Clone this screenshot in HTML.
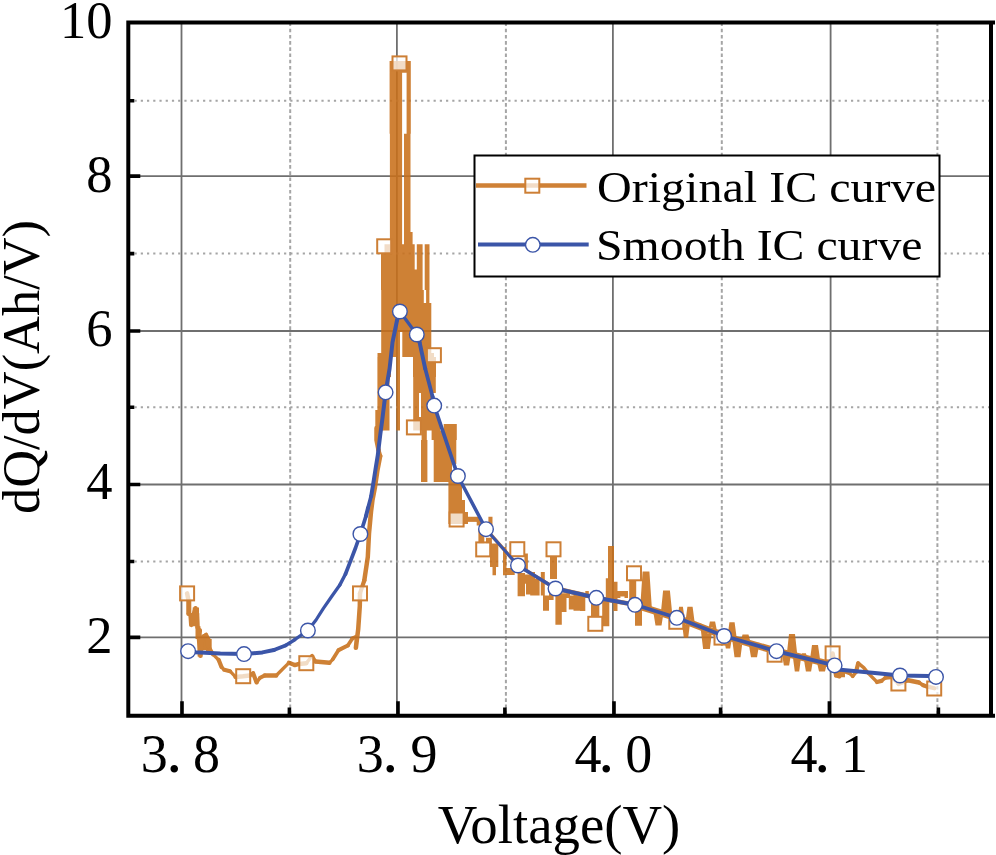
<!DOCTYPE html><html><head><meta charset="utf-8"><title>dQ/dV</title><style>
html,body{margin:0;padding:0;background:#fff;}
svg{display:block;}
.gmaj{stroke:#6f6f6f;stroke-width:1.8;}
.gmin{stroke:#a5a5a5;stroke-width:2;stroke-dasharray:2.2 4.03;}
.gv{stroke-dasharray:3.6 2.6;}
text{font-family:"Liberation Serif","Times New Roman",serif;fill:#000;}
.tl{font-size:52.5px;}
.xl{font-size:54px;}
.at{font-size:54px;}
.yt{font-size:52px;}
.lg{font-size:45px;}
.ol{fill:none;stroke:#c8701a;stroke-width:4.5;stroke-linejoin:miter;}
.bl{fill:none;stroke:#3b55a8;stroke-width:4;}
.sq rect{fill:rgba(255,255,255,0.72);stroke:#cd7f35;stroke-width:2;}
.ci circle{fill:#fff;stroke:#3b55a8;stroke-width:1.4;}
</style></head><body><svg width="996" height="855" viewBox="0 0 996 855">
<rect width="996" height="855" fill="#fff"/>
<g><line x1="181.5" y1="22.5" x2="181.5" y2="715.8" class="gmaj"/><line x1="396.9" y1="22.5" x2="396.9" y2="715.8" class="gmaj"/><line x1="612.9" y1="22.5" x2="612.9" y2="715.8" class="gmaj"/><line x1="830.6" y1="22.5" x2="830.6" y2="715.8" class="gmaj"/><line x1="290.2" y1="22.5" x2="290.2" y2="715.8" class="gmin gv"/><line x1="505.9" y1="22.5" x2="505.9" y2="715.8" class="gmin gv"/><line x1="721.8" y1="22.5" x2="721.8" y2="715.8" class="gmin gv"/><line x1="937.4" y1="22.5" x2="937.4" y2="715.8" class="gmin gv"/><line x1="128.3" y1="637.4" x2="991.0" y2="637.4" class="gmaj"/><line x1="128.3" y1="484.5" x2="991.0" y2="484.5" class="gmaj"/><line x1="128.3" y1="331.0" x2="991.0" y2="331.0" class="gmaj"/><line x1="128.3" y1="176.1" x2="991.0" y2="176.1" class="gmaj"/><line x1="128.3" y1="561.5" x2="991.0" y2="561.5" class="gmin"/><line x1="128.3" y1="407.2" x2="991.0" y2="407.2" class="gmin"/><line x1="128.3" y1="253.6" x2="991.0" y2="253.6" class="gmin"/><line x1="128.3" y1="100.7" x2="991.0" y2="100.7" class="gmin"/></g>
<g opacity="0.88"><path d="M389.6 61.0H410.8V72.8H389.6ZM389.6 72.8H402.1V133.7H389.6ZM406.6 72.8H410.8V133.7H406.6ZM389.9 133.7H402.1V232.0H389.9ZM404.0 133.7H410.5V232.0H404.0ZM389.9 232.0H402.1V244.2H389.9ZM404.0 232.0H412.6V244.2H404.0ZM384.5 244.2H414.7V253.7H384.5ZM416.8 244.2H422.6V253.7H416.8ZM424.7 244.2H429.5V253.7H424.7ZM381.0 253.7H414.7V269.5H381.0ZM416.8 253.7H422.6V269.5H416.8ZM424.7 253.7H429.5V269.5H424.7ZM381.0 269.5H422.6V290.0H381.0ZM424.7 269.5H429.5V290.0H424.7ZM381.2 290.0H423.8V303.0H381.2ZM426.1 290.0H429.4V303.0H426.1ZM381.2 303.0H431.3V332.0H381.2ZM381.2 332.0H400.0V353.0H381.2ZM402.3 332.0H431.3V353.0H402.3ZM377.5 353.0H400.0V357.0H377.5ZM402.3 353.0H434.0V357.0H402.3ZM377.4 357.0H391.0V377.0H377.4ZM396.3 357.0H400.0V377.0H396.3ZM413.0 357.0H436.0V377.0H413.0ZM377.4 377.0H389.5V393.0H377.4ZM396.3 377.0H400.0V393.0H396.3ZM413.2 377.0H435.8V393.0H413.2ZM377.4 393.0H389.5V410.0H377.4ZM396.3 393.0H400.0V410.0H396.3ZM413.2 393.0H419.0V410.0H413.2ZM421.0 393.0H432.0V410.0H421.0ZM375.3 410.0H389.5V417.0H375.3ZM396.3 410.0H400.0V417.0H396.3ZM413.2 410.0H419.0V417.0H413.2ZM421.0 410.0H437.0V417.0H421.0ZM375.3 417.0H389.5V424.0H375.3ZM396.3 417.0H400.0V424.0H396.3ZM413.2 417.0H439.0V424.0H413.2ZM375.3 424.0H389.5V430.5H375.3ZM396.3 424.0H400.0V430.5H396.3ZM413.2 424.0H440.0V430.5H413.2ZM443.7 424.0H456.8V430.5H443.7ZM375.3 430.5H381.0V440.0H375.3ZM421.6 430.5H426.8V440.0H421.6ZM431.6 430.5H456.8V440.0H431.6ZM421.0 440.0H427.4V464.0H421.0ZM433.7 440.0H456.3V464.0H433.7ZM421.0 464.0H427.4V482.0H421.0ZM433.7 464.0H452.0V482.0H433.7ZM448.4 482.0H462.0V500.0H448.4ZM448.4 500.0H465.0V512.0H448.4ZM448.4 512.0H468.0V524.0H448.4ZM187.1 599.6H191.3V615.1H187.1ZM189.2 613.7H193.4V624.9H189.2ZM192.7 607.4H199.0V626.3H192.7ZM195.5 626.3H200.5V639.0H195.5ZM197.6 636.0H201.9V656.5H197.6ZM201.2 634.7H208.2V650.2H201.2ZM206.0 639.0H211.7V651.6H206.0ZM464.0 516.7H478.4V521.4H464.0ZM476.7 516.7H479.6V525.5H476.7ZM478.4 530.0H484.3V543.6H478.4ZM486.0 537.8H491.9V543.6H486.0ZM488.4 516.7H492.5V525.0H488.4ZM490.0 543.6H498.3V567.0H490.0ZM492.5 560.0H496.0V575.2H492.5ZM503.0 547.0H506.5V575.2H503.0ZM506.5 568.0H514.7V575.0H506.5ZM517.6 573.0H525.0V596.3H517.6ZM524.4 553.4H527.9V569.8H524.4ZM522.0 574.5H527.9V583.8H522.0ZM526.0 574.5H530.2V594.4H526.0ZM530.2 572.0H535.0V595.5H530.2ZM535.0 579.0H539.6V595.5H535.0ZM540.8 572.0H544.8V595.5H540.8ZM543.0 595.5H549.0V610.8H543.0ZM550.0 556.0H557.0V579.0H550.0ZM549.0 585.0H553.6V600.0H549.0ZM555.4 593.2H561.8V624.8H555.4ZM561.8 593.2H566.5V612.0H561.8ZM566.5 592.0H570.0V598.0H566.5ZM568.8 595.5H573.5V609.6H568.8ZM573.5 591.0H577.0V610.8H573.5ZM577.0 595.5H585.0V610.8H577.0ZM580.0 593.5H585.3V611.0H580.0ZM585.3 591.0H588.8V598.0H585.3ZM591.0 604.0H599.3V617.0H591.0ZM602.2 598.0H609.3V626.3H602.2ZM605.8 578.3H609.3V598.0H605.8ZM608.0 546.0H614.0V600.5H608.0ZM613.4 581.8H617.5V611.0H613.4ZM615.0 591.0H620.4V598.0H615.0ZM624.5 591.0H628.0V598.0H624.5ZM620.4 591.0H624.5V596.5H620.4ZM629.2 580.7H636.2V600.5H629.2ZM635.0 610.0H642.0V625.7H635.0ZM834.7 670.2H845.0V677.3H834.7ZM640.0 610.2L642.6 571.5L649.4 571.5L652.0 610.2ZM653.0 610.1L655.5 625.5L661.5 625.5L664.0 610.1ZM660.5 616.6L663.1 590.4L669.9 590.4L672.5 616.6ZM677.0 621.4L679.1 606.8L682.9 606.8L685.0 621.4ZM681.5 619.3L683.8 637.8L688.2 637.8L690.5 619.3ZM685.0 624.9L687.4 606.8L692.6 606.8L695.0 624.9ZM692.5 623.6L694.8 626.0L699.2 626.0L701.5 623.6ZM700.5 627.2L703.1 649.0L709.9 649.0L712.5 627.2ZM707.5 633.5L709.9 621.6L715.1 621.6L717.5 633.5ZM723.5 635.1L725.8 648.5L730.2 648.5L732.5 635.1ZM727.0 640.3L729.4 622.2L734.6 622.2L737.0 640.3ZM732.0 637.9L734.5 657.3L740.5 657.3L743.0 637.9ZM740.0 644.2L742.5 634.5L748.5 634.5L751.0 644.2ZM748.5 642.7L751.0 657.3L757.0 657.3L759.5 642.7ZM761.0 650.0L763.2 645.0L767.8 645.0L770.0 650.0ZM781.5 651.6L783.9 665.5L789.1 665.5L791.5 651.6ZM786.5 657.0L789.0 634.0L795.0 634.0L797.5 657.0ZM792.5 654.2L794.8 671.4L799.2 671.4L801.5 654.2ZM800.0 659.9L802.1 653.3L805.9 653.3L808.0 659.9ZM803.5 657.0L805.9 671.4L811.1 671.4L813.5 657.0ZM809.5 662.6L812.0 645.0L818.0 645.0L820.5 662.6ZM816.5 660.3L819.0 671.4L825.0 671.4L827.5 660.3Z" fill="#c8701a"/><path d="M213.0 654.4L214.5 655.8M214.5 655.8L218.7 660.0M221.5 667.0L224.3 669.8M230.0 671.2L235.5 676.9M276.2 675.5L283.2 668.5M283.2 668.5L288.9 662.8M329.4 662.8L332.8 659.3" class="ol" style="stroke-width:3.25;stroke-linecap:round"/><path d="M197.6 627.7L199.8 630.5M256.6 682.4L260.1 677.8M306.3 663.2L312.0 655.8" class="ol" style="stroke-width:3.5;stroke-linecap:round"/><path d="M188.5 613.7L190.6 615.1M204.0 636.1L206.0 634.7M249.7 675.5L253.1 673.2M312.0 655.8L315.5 661.6M332.8 659.3L338.6 650.1M347.8 645.5L352.4 638.5" class="ol" style="stroke-width:3.75;stroke-linecap:round"/><path d="M201.9 640.4L204.0 636.1M206.0 634.7L208.2 639.0M208.2 646.0L213.0 654.4M260.1 677.8L264.7 675.5M338.6 650.1L347.8 645.5M352.4 638.5L357.1 636.2" class="ol" style="stroke-width:4.0;stroke-linecap:round"/><path d="M193.4 615.1L195.5 608.1M195.5 608.1L197.0 613.7M218.7 660.0L221.5 667.0M224.3 669.8L230.0 671.2M253.1 673.2L256.6 682.4M288.9 662.8L294.7 665.1M294.7 665.1L299.3 663.9M360.0 593.4L364.3 580.4M380.2 456.0L378.5 450.0" class="ol" style="stroke-width:4.25;stroke-linecap:round"/><path d="M187.1 593.4L188.5 600.4M188.5 600.4L188.5 613.7M190.6 615.1L191.3 624.9M191.3 624.9L193.4 615.1M197.0 613.7L197.6 627.7M199.8 630.5L199.0 639.0M199.0 639.0L200.5 655.8M200.5 655.8L201.9 640.4M208.2 639.0L208.2 646.0M235.5 676.9L243.2 676.2M243.2 676.2L249.7 675.5M264.7 675.5L276.2 675.5M299.3 663.9L306.3 663.2M315.5 661.6L329.4 662.8M357.1 636.2L355.9 647.8M355.9 647.8L358.2 629.3M358.2 629.3L359.8 606.2M359.8 606.2L360.0 593.4M364.3 580.4L367.8 557.0M367.8 557.0L369.0 533.6M369.0 533.6L371.0 512.0M371.0 512.0L372.5 500.0M372.5 500.0L375.0 487.0M375.0 487.0L377.5 470.0M377.5 470.0L380.2 456.0M378.5 450.0L376.5 440.0M376.5 440.0L376.5 428.0M376.5 428.0L383.0 428.0" class="ol" style="stroke-width:4.5;stroke-linecap:round"/><path d="M849.4 673.1L852.7 676.4M868.1 673.1L872.5 677.5M872.5 677.5L877.0 682.0M891.3 677.0L898.5 684.0" class="ol" style="stroke-width:3.25;stroke-linecap:round"/><path d="M481.0 525.0L486.0 529.2M486.0 529.2L518.0 565.5M839.4 676.4L843.8 671.0M852.7 676.4L856.0 672.0M858.2 663.2L863.7 667.6M863.7 667.6L868.1 673.1M881.4 680.9L885.8 677.5" class="ol" style="stroke-width:3.5;stroke-linecap:round"/><path d="M518.0 565.5L555.5 588.5M918.9 682.5L923.3 685.3" class="ol" style="stroke-width:3.75;stroke-linecap:round"/><path d="M478.0 519.5L481.0 525.0" class="ol" style="stroke-width:4.0;stroke-linecap:round"/><path d="M635.0 604.8L676.8 617.8M676.8 617.8L724.1 636.0M724.1 636.0L776.5 651.2M776.5 651.2L834.6 665.4M836.1 675.3L839.4 676.4M843.8 671.0L849.4 673.1M856.0 672.0L858.2 663.2M877.0 682.0L881.4 680.9M898.5 684.0L907.9 680.3M923.3 685.3L926.7 686.4M926.7 686.4L934.4 688.3" class="ol" style="stroke-width:4.25;stroke-linecap:round"/><path d="M456.6 519.5L478.0 519.5M555.5 588.5L596.3 597.8M596.3 597.8L635.0 604.8M834.6 665.4L832.6 653.4M832.6 653.4L834.6 665.4M834.6 665.4L836.1 675.3M885.8 677.5L891.3 677.0M907.9 680.3L918.9 682.5" class="ol" style="stroke-width:4.5;stroke-linecap:round"/><path d="M635.0 604.8L676.8 617.8L724.1 636.0L776.5 651.2L834.6 665.4" class="ol" style="stroke-width:7"/></g><g class="sq"><rect x="180.1" y="586.4" width="14" height="14"/><rect x="236.2" y="669.2" width="14" height="14"/><rect x="299.3" y="656.2" width="14" height="14"/><rect x="353.0" y="586.4" width="14" height="14"/><rect x="377.2" y="239.3" width="14" height="14"/><rect x="392.5" y="56.4" width="14" height="14"/><rect x="426.9" y="348.2" width="14" height="14"/><rect x="406.9" y="420.4" width="14" height="14"/><rect x="449.6" y="512.5" width="14" height="14"/><rect x="476.2" y="542.4" width="14" height="14"/><rect x="510.3" y="542.2" width="14" height="14"/><rect x="546.5" y="542.3" width="14" height="14"/><rect x="588.3" y="616.8" width="14" height="14"/><rect x="627.0" y="566.3" width="14" height="14"/><rect x="669.3" y="614.8" width="14" height="14"/><rect x="714.5" y="630.6" width="14" height="14"/><rect x="767.6" y="647.7" width="14" height="14"/><rect x="825.6" y="646.4" width="14" height="14"/><rect x="891.4" y="676.5" width="14" height="14"/><rect x="927.2" y="681.5" width="14" height="14"/></g><path d="M486.0 529.2L518.0 565.5" class="bl" style="stroke-width:3.0;stroke-linecap:round"/><path d="M294.7 639.7L307.9 630.5M307.9 630.5L316.0 620.0M316.0 620.0L323.4 608.4M323.4 608.4L332.0 596.0M332.0 596.0L339.8 585.0M399.9 311.5L416.8 334.5M834.6 665.4L840.5 669.8" class="bl" style="stroke-width:3.25;stroke-linecap:round"/><path d="M285.5 645.5L294.7 639.7M339.8 585.0L345.5 574.0M457.9 476.0L486.0 529.2M518.0 565.5L555.5 588.5" class="bl" style="stroke-width:3.5;stroke-linecap:round"/><path d="M273.9 650.0L285.5 645.5M345.5 574.0L350.3 561.6M350.3 561.6L355.5 548.0M355.5 548.0L360.4 534.0M360.4 534.0L363.5 524.0M363.5 524.0L366.0 516.0M368.0 508.0L371.2 496.1M397.1 320.0L399.9 311.5M416.8 334.5L419.6 342.4M425.2 368.6L432.6 396.8M434.2 405.6L457.9 476.0M635.0 604.8L676.8 617.8M676.8 617.8L724.1 636.0M724.1 636.0L776.5 651.2" class="bl" style="stroke-width:3.75;stroke-linecap:round"/><path d="M188.1 651.2L195.0 652.3M195.0 652.3L220.0 653.5M220.0 653.5L244.0 654.1M244.0 654.1L250.8 653.6M250.8 653.6L262.4 652.4M262.4 652.4L273.9 650.0M366.0 516.0L368.0 508.0M371.2 496.1L373.7 480.9M373.7 480.9L375.5 469.2M375.5 469.2L377.8 455.1M377.8 455.1L380.2 435.2M380.2 435.2L382.5 418.0M382.5 418.0L385.6 392.3M385.6 392.3L389.6 368.6M389.6 368.6L392.5 342.4M392.5 342.4L397.1 320.0M419.6 342.4L425.2 368.6M432.6 396.8L434.2 405.6M555.5 588.5L596.3 597.8M596.3 597.8L635.0 604.8M776.5 651.2L834.6 665.4M840.5 669.8L874.8 673.1M874.8 673.1L900.0 675.5M900.0 675.5L928.9 675.9M928.9 675.9L936.0 676.9" class="bl" style="stroke-width:4.0;stroke-linecap:round"/><g class="ci"><circle cx="188.1" cy="651.2" r="7.3"/><circle cx="244.0" cy="654.1" r="7.3"/><circle cx="307.9" cy="630.5" r="7.3"/><circle cx="360.4" cy="534.0" r="7.3"/><circle cx="385.6" cy="392.3" r="7.3"/><circle cx="399.9" cy="311.5" r="7.3"/><circle cx="416.8" cy="334.5" r="7.3"/><circle cx="434.2" cy="405.6" r="7.3"/><circle cx="457.9" cy="476.0" r="7.3"/><circle cx="486.0" cy="529.2" r="7.3"/><circle cx="518.0" cy="565.5" r="7.3"/><circle cx="555.5" cy="588.5" r="7.3"/><circle cx="596.3" cy="597.8" r="7.3"/><circle cx="635.0" cy="604.8" r="7.3"/><circle cx="676.8" cy="617.8" r="7.3"/><circle cx="724.1" cy="636.0" r="7.3"/><circle cx="776.5" cy="651.2" r="7.3"/><circle cx="834.6" cy="665.4" r="7.3"/><circle cx="900.0" cy="675.5" r="7.3"/><circle cx="936.0" cy="676.9" r="7.3"/></g>
<path d="M182.0 715.8V701.3M398.0 715.8V701.3M614.0 715.8V701.3M829.4 715.8V701.3M289.4 715.8V707.5999999999999M504.9 715.8V707.5999999999999M720.6 715.8V707.5999999999999M938.4 715.8V707.5999999999999M128.3 637.4H140.3M128.3 484.5H140.3M128.3 331.0H140.3M128.3 176.1H140.3M128.3 561.5H134.3M128.3 407.2H134.3M128.3 253.6H134.3M128.3 100.7H134.3" stroke="#000" stroke-width="3.6" fill="none"/>
<path d="M126.30000000000001 22.5H995M126.30000000000001 715.8H995M128.3 22.5V715.8M991.0 22.5V715.8" fill="none" stroke="#000" stroke-width="4"/>
<text x="112.5" y="37.6" class="tl" text-anchor="end">10</text>
<text x="112.5" y="192.1" class="tl" text-anchor="end">8</text>
<text x="112.5" y="345.6" class="tl" text-anchor="end">6</text>
<text x="112.5" y="499.1" class="tl" text-anchor="end">4</text>
<text x="112.5" y="653.1" class="tl" text-anchor="end">2</text>
<text y="772.3" class="xl"><tspan x="140.8">3</tspan><tspan x="166.3" style="font-size:64px">.</tspan><tspan x="193.0">8</tspan></text>
<text y="772.3" class="xl"><tspan x="356.8">3</tspan><tspan x="382.3" style="font-size:64px">.</tspan><tspan x="410.5">9</tspan></text>
<text y="772.3" class="xl"><tspan x="574.4">4</tspan><tspan x="598.3" style="font-size:64px">.</tspan><tspan x="625.3">0</tspan></text>
<text y="772.3" class="xl"><tspan x="790.4">4</tspan><tspan x="814.3" style="font-size:64px">.</tspan><tspan x="841.0">1</tspan></text>
<text x="437.8" y="843.3" class="at" textLength="242.5" lengthAdjust="spacingAndGlyphs">Voltage(V)</text>
<text transform="translate(39,512) rotate(-90)" x="-2" y="0" class="yt" textLength="294" lengthAdjust="spacingAndGlyphs">dQ/dV(Ah/V)</text>
<rect x="474.5" y="155.5" width="465" height="121" fill="#fff" stroke="#000" stroke-width="2"/><g opacity="0.88"><path d="M476 185.5H586.5" class="ol"/></g><g class="sq"><rect x="525.3" y="178.7" width="14" height="14"/></g><path d="M478 244.5H588.7" class="bl"/><g class="ci"><circle cx="532.8" cy="244.8" r="7.3"/></g><text x="597" y="201.9" class="lg" textLength="339" lengthAdjust="spacingAndGlyphs">Original IC curve</text><text x="596" y="260.3" class="lg" textLength="326.5" lengthAdjust="spacingAndGlyphs">Smooth IC curve</text>
</svg></body></html>
